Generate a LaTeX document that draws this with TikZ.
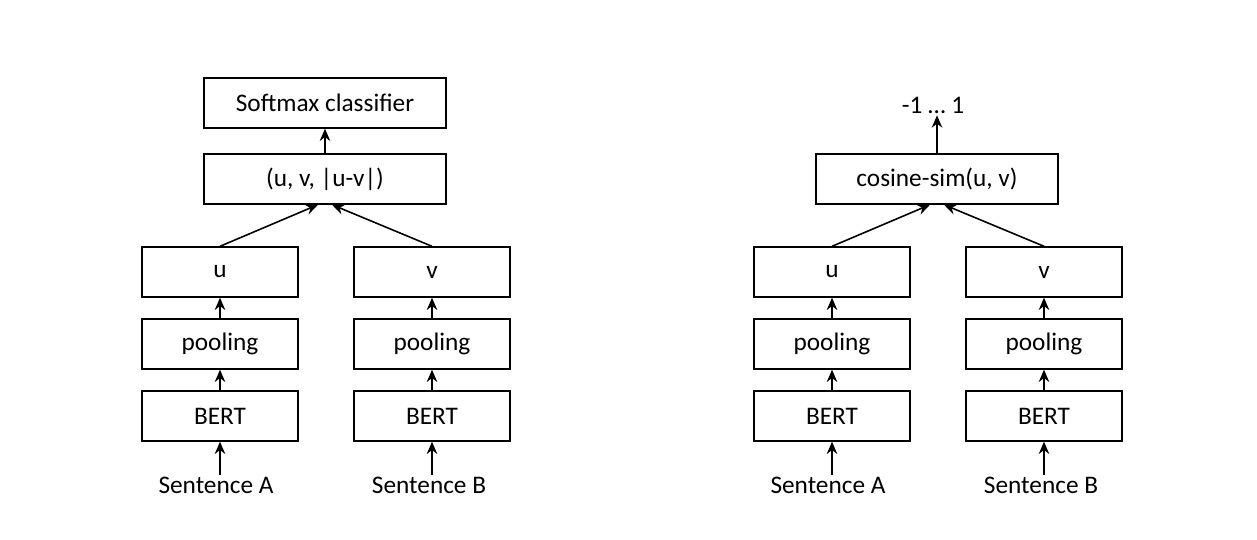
\documentclass[tikz,border=0pt]{standalone}
\usepackage{fontspec}
\setmainfont{Carlito}
\usetikzlibrary{arrows.meta}
\begin{document}
\begin{tikzpicture}[x=0.02cm,y=-0.02cm,
  box/.style={draw,line width=0.8pt,minimum height=1cm,inner sep=0pt,font=\fontsize{14.4}{16}\selectfont},
  wide/.style={box,minimum width=4.84cm},
  small/.style={box,minimum width=3.12cm},
  lbl/.style={inner sep=1pt,font=\fontsize{14.4}{16}\selectfont},
  arr/.style={-{Stealth[length=7pt,width=6pt]},line width=0.9pt}]
\useasboundingbox (0,0) rectangle (1257,539);
\foreach \p/\ox in {L/0,R/612}{
  \node[small] (\p ua) at (220+\ox,272) {u};
  \node[small] (\p ub) at (432+\ox,272) {v};
  \node[small] (\p pa) at (220+\ox,344) {pooling};
  \node[small] (\p pb) at (432+\ox,344) {pooling};
  \node[small] (\p ba) at (220+\ox,416) {BERT};
  \node[small] (\p bb) at (432+\ox,416) {BERT};
  \node[lbl] (\p sa) at (216+\ox,485) {Sentence A};
  \node[lbl] (\p sb) at (429+\ox,485) {Sentence B};
  \draw[arr] (\p sa.north -| \p ba.south) -- (\p ba.south);
  \draw[arr] (\p sb.north -| \p bb.south) -- (\p bb.south);
  \draw[arr] (\p ba) -- (\p pa);
  \draw[arr] (\p bb) -- (\p pb);
  \draw[arr] (\p pa) -- (\p ua);
  \draw[arr] (\p pb) -- (\p ub);
}
\node[wide] (Lc) at (325,179) {(u, v, |u-v|)};
\node[wide] (Ls) at (325,103) {Softmax classifier};
\draw[arr] (Lc) -- (Ls);
\draw[arr] (Lua.north) -- ([xshift=-0.14cm]Lc.south);
\draw[arr] (Lub.north) -- ([xshift=0.14cm]Lc.south);
\node[wide] (Rc) at (937,179) {cosine-sim(u, v)};
\node[lbl] (Rt) at (933,105) {-1 … 1};
\draw[arr] (Rc.north) -- (Rt.south -| Rc.north);
\draw[arr] (Rua.north) -- ([xshift=-0.14cm]Rc.south);
\draw[arr] (Rub.north) -- ([xshift=0.14cm]Rc.south);
\end{tikzpicture}
\end{document}
